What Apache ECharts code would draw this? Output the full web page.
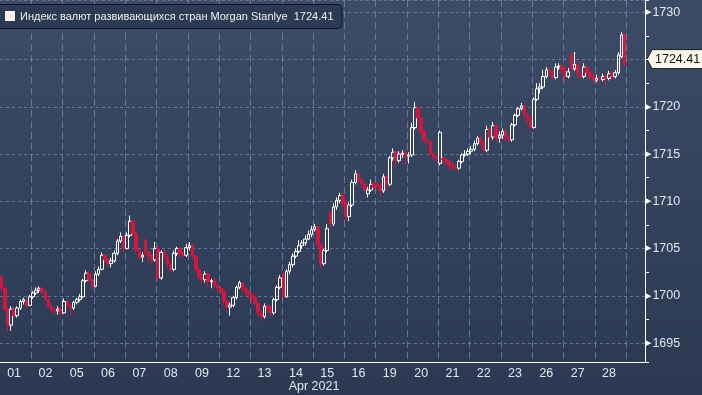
<!DOCTYPE html>
<html><head><meta charset="utf-8">
<script src="https://cdn.jsdelivr.net/npm/echarts@6/dist/echarts.min.js"></script>
<style>html,body{margin:0;padding:0;background:#2f3d58}#c{width:702px;height:395px}</style>
</head><body><div id="c"></div>
<script>
// ---- data ----
const days = ['01','02','05','06','07','08','09','12','13','14','15','16','19','20','21','22','23','26','27','28'];
const trailingDay = '29';
const barsPerDay = 10;
const trailingSlots = 6;
const monthLabel = 'Apr 2021';
const seriesName = 'Индекс валют развивающихся стран Morgan Stanlye';
const lastValue = 1724.41;
const yTicksMajor = [1695,1700,1705,1710,1715,1720,1730];
// bars: [open, close, low, high]
const d01 = [[1702.0,1700.8,1700.5,1702.2],[1700.8,1698.6,1698.3,1701.0],[1698.6,1696.9,1696.2,1698.7],[1696.9,1698.6,1696.3,1698.9],[1698.6,1697.9,1697.6,1698.8],[1697.9,1698.7,1697.7,1698.9],[1698.7,1699.4,1698.5,1699.6],[1699.4,1699.6,1699.1,1699.8],[1699.6,1699.0,1698.8,1699.7],[1699.0,1699.9,1698.9,1700.1]];
const d02 = [[1699.9,1700.3,1699.7,1700.5],[1700.3,1700.6,1700.1,1700.9],[1700.6,1700.8,1700.3,1701.0],[1700.8,1700.4,1700.2,1700.9],[1700.4,1699.6,1699.4,1700.5],[1699.6,1698.9,1698.7,1699.8],[1698.9,1698.5,1698.2,1699.1],[1698.5,1698.4,1698.0,1698.8],[1698.4,1698.6,1698.0,1698.9],[1698.6,1698.2,1697.9,1698.8]];
const d05 = [[1698.2,1699.4,1698.1,1699.7],[1699.4,1699.0,1698.8,1699.6],[1699.0,1698.7,1697.9,1699.1],[1698.7,1699.3,1698.5,1699.5],[1699.3,1699.6,1699.1,1699.8],[1699.6,1699.9,1699.4,1700.2],[1699.9,1701.6,1699.8,1701.8],[1701.6,1702.4,1701.4,1702.7],[1702.4,1701.7,1701.5,1702.6],[1701.7,1701.0,1700.7,1701.9]];
const d06 = [[1701.0,1702.3,1700.9,1702.6],[1702.3,1702.8,1702.1,1703.1],[1702.8,1704.3,1702.7,1704.6],[1704.3,1703.8,1703.5,1704.4],[1703.8,1703.4,1703.0,1704.0],[1703.4,1703.7,1703.0,1704.0],[1703.7,1704.5,1703.5,1704.8],[1704.5,1705.8,1704.3,1706.0],[1705.8,1706.3,1705.6,1706.7],[1706.3,1705.0,1704.6,1706.4]];
const d07 = [[1705.0,1706.4,1704.9,1706.7],[1706.4,1707.9,1706.2,1708.5],[1707.9,1706.6,1706.3,1708.1],[1706.6,1704.8,1704.5,1706.8],[1704.8,1704.1,1703.8,1705.0],[1704.1,1704.3,1703.6,1704.6],[1705.9,1704.6,1704.2,1706.1],[1704.6,1704.2,1703.6,1704.9],[1704.2,1703.8,1703.3,1704.4],[1703.8,1705.0,1703.6,1705.7]];
const d08 = [[1705.0,1701.9,1701.6,1705.3],[1701.9,1704.6,1701.7,1704.8],[1704.6,1704.1,1703.8,1704.9],[1704.1,1703.4,1703.1,1704.4],[1703.4,1702.8,1702.4,1703.6],[1702.8,1704.5,1702.6,1704.8],[1704.5,1705.0,1704.2,1705.2],[1705.0,1704.4,1704.1,1705.1],[1704.4,1704.3,1703.9,1704.7],[1704.3,1705.1,1704.1,1705.5]];
const d09 = [[1705.1,1705.3,1704.8,1705.7],[1705.3,1704.2,1703.9,1705.5],[1704.2,1702.8,1702.5,1704.3],[1702.8,1702.0,1701.7,1703.0],[1702.0,1701.7,1701.3,1702.3],[1701.7,1702.3,1701.4,1702.6],[1702.3,1701.5,1701.0,1702.5],[1701.5,1701.6,1700.8,1701.8],[1701.6,1701.1,1700.8,1701.9],[1701.1,1700.8,1700.4,1701.3]];
const d12 = [[1700.8,1700.5,1700.2,1701.0],[1700.5,1699.4,1699.0,1700.7],[1699.4,1698.8,1698.3,1699.6],[1698.8,1699.0,1697.9,1699.3],[1699.0,1699.8,1698.8,1700.0],[1699.8,1700.9,1699.6,1701.1],[1700.9,1701.4,1700.7,1701.6],[1701.4,1700.7,1700.4,1701.5],[1700.7,1700.4,1700.0,1701.0],[1700.4,1700.1,1699.7,1700.6]];
const d13 = [[1700.1,1699.8,1699.3,1700.3],[1699.8,1699.2,1698.9,1700.0],[1699.2,1698.2,1697.8,1699.3],[1698.2,1697.8,1697.3,1698.4],[1697.8,1698.9,1697.6,1699.2],[1698.9,1698.6,1698.2,1699.2],[1698.6,1698.2,1697.8,1698.9],[1698.2,1699.6,1698.0,1699.8],[1699.6,1700.9,1699.4,1701.1],[1700.9,1701.9,1700.7,1702.2]];
const d14 = [[1702.3,1699.9,1699.7,1702.5],[1699.9,1702.6,1699.8,1702.8],[1702.6,1703.3,1702.3,1703.6],[1703.3,1704.2,1703.0,1704.5],[1704.2,1704.7,1704.0,1705.0],[1704.7,1705.3,1704.5,1705.9],[1705.3,1705.6,1705.0,1705.9],[1705.6,1706.0,1705.3,1706.4],[1706.0,1706.5,1705.9,1706.9],[1706.5,1707.0,1706.2,1707.4]];
const d15 = [[1707.0,1707.3,1706.8,1707.6],[1707.3,1705.4,1705.0,1707.5],[1705.4,1703.4,1702.9,1705.6],[1703.4,1704.8,1703.2,1705.0],[1704.8,1707.1,1704.6,1707.6],[1708.8,1707.6,1707.2,1709.0],[1707.6,1709.4,1707.4,1709.8],[1709.4,1710.1,1709.1,1710.4],[1710.1,1710.6,1709.8,1710.9],[1710.6,1709.8,1709.4,1710.9]];
const d16 = [[1709.8,1708.4,1707.9,1710.1],[1708.4,1709.6,1707.9,1709.9],[1709.6,1712.0,1709.4,1712.3],[1712.0,1712.9,1711.8,1713.3],[1712.9,1712.3,1712.0,1713.1],[1712.3,1711.8,1711.5,1712.5],[1711.8,1711.2,1710.9,1712.0],[1710.8,1711.2,1710.4,1711.5],[1711.2,1711.8,1711.0,1712.3],[1711.8,1711.5,1711.1,1712.0]];
const d19 = [[1711.9,1711.6,1711.2,1712.1],[1711.6,1711.1,1710.4,1711.8],[1711.1,1712.6,1710.9,1712.9],[1712.6,1711.8,1711.2,1712.8],[1711.8,1714.6,1711.6,1714.8],[1714.6,1715.2,1714.3,1715.6],[1715.2,1714.3,1713.6,1715.4],[1714.3,1715.0,1714.1,1715.3],[1715.0,1715.1,1714.6,1715.4],[1715.1,1714.8,1713.9,1715.3]];
const d20 = [[1714.8,1714.9,1714.0,1715.2],[1714.9,1717.8,1714.7,1718.3],[1717.8,1719.9,1717.6,1720.5],[1719.9,1718.8,1718.5,1720.2],[1718.8,1717.4,1717.0,1719.0],[1717.4,1716.5,1716.1,1717.6],[1716.5,1716.3,1716.0,1716.7],[1716.3,1715.0,1714.7,1716.5],[1715.0,1714.7,1714.3,1715.3],[1714.7,1714.5,1714.1,1715.0]];
const d21 = [[1714.0,1717.3,1713.8,1717.5],[1714.5,1714.4,1714.0,1714.8],[1714.4,1714.2,1713.9,1714.6],[1714.2,1713.8,1713.3,1714.4],[1713.8,1713.6,1713.3,1714.1],[1713.6,1713.5,1713.2,1713.9],[1713.5,1714.2,1713.3,1714.4],[1714.2,1714.9,1714.0,1715.1],[1714.9,1715.0,1714.7,1715.4],[1715.0,1715.3,1714.8,1715.6]];
const d22 = [[1715.3,1715.5,1715.0,1715.8],[1715.5,1716.1,1715.3,1716.4],[1716.1,1716.7,1715.9,1716.9],[1716.7,1716.2,1715.9,1716.9],[1716.2,1715.4,1715.1,1716.4],[1715.4,1717.6,1715.2,1718.0],[1717.6,1716.8,1716.3,1717.8],[1716.8,1718.0,1716.5,1718.4],[1718.0,1716.7,1716.3,1718.1],[1716.7,1717.0,1716.2,1717.4]];
const d23 = [[1717.0,1717.4,1716.6,1717.7],[1717.4,1716.8,1716.4,1717.6],[1716.8,1716.5,1716.2,1717.0],[1716.5,1718.1,1716.3,1718.3],[1718.1,1719.1,1717.9,1719.3],[1719.1,1719.8,1718.9,1720.0],[1719.8,1720.1,1719.6,1720.4],[1720.1,1719.1,1718.7,1720.2],[1719.1,1718.7,1718.2,1719.3],[1718.8,1717.8,1717.6,1719.0]];
const d26 = [[1717.8,1720.8,1717.7,1721.0],[1720.8,1721.9,1720.6,1722.5],[1721.9,1722.1,1721.4,1722.5],[1722.1,1723.2,1721.9,1723.9],[1723.2,1723.9,1723.0,1724.2],[1723.9,1723.8,1723.3,1724.2],[1723.8,1723.1,1722.9,1724.0],[1723.1,1724.2,1722.9,1724.6],[1724.2,1724.3,1723.9,1724.6],[1724.3,1723.9,1723.6,1724.5]];
const d27 = [[1723.9,1723.2,1722.6,1724.4],[1723.2,1723.7,1723.0,1724.1],[1725.6,1724.0,1723.8,1725.7],[1724.0,1724.5,1723.8,1725.8],[1724.5,1723.5,1723.1,1724.7],[1723.5,1723.2,1722.9,1723.8],[1723.2,1724.2,1723.0,1724.6],[1724.2,1723.6,1723.3,1724.4],[1723.6,1723.2,1722.8,1723.8],[1723.2,1722.8,1722.5,1723.6]];
const d28 = [[1722.8,1723.0,1722.6,1723.4],[1723.0,1722.9,1722.4,1723.3],[1722.9,1723.2,1722.7,1723.5],[1723.2,1723.0,1722.3,1723.4],[1723.0,1723.5,1722.8,1723.8],[1723.5,1723.2,1722.9,1723.8],[1723.2,1723.6,1723.0,1723.9],[1723.6,1725.5,1723.4,1725.8],[1725.3,1727.6,1725.1,1727.9],[1727.7,1724.41,1724.3,1727.8]];
const barsByDay = [d01,d02,d05,d06,d07,d08,d09,d12,d13,d14,d15,d16,d19,d20,d21,d22,d23,d26,d27,d28];

// ---- build ----
const categories = [];
const ohlc = [];
days.forEach((d, i) => {
  barsByDay[i].forEach((b, j) => { categories.push(d + '#' + j); ohlc.push(b); });
});
for (let j = 0; j < trailingSlots; j++) categories.push(trailingDay + '#' + j);

const FONT = 'Liberation Sans';
const chart = echarts.init(document.getElementById('c'), null, {renderer: 'canvas'});
const yMin = 1693, yMax = 1731.3;
const gridCol = 'rgba(135,155,185,0.6)';

chart.setOption({
  animation: false,
  backgroundColor: new echarts.graphic.LinearGradient(0, 0, 0, 1, [
    {offset: 0, color: '#3c4b66'}, {offset: 1, color: '#2b3953'}
  ]),
  grid: {left: 0, right: 57, top: 0, bottom: 33},
  xAxis: {
    type: 'category', data: categories, boundaryGap: true,
    axisLine: {show: true, lineStyle: {color: '#ffffff', width: 1}},
    axisTick: {show: false},
    axisLabel: {
      interval: (idx) => idx % barsPerDay === 4 && idx < days.length * barsPerDay,
      formatter: (v) => v.split('#')[0],
      color: '#e4e7ee', fontFamily: FONT, fontSize: 12.5, margin: 5
    },
    splitLine: {show: true, interval: (idx) => idx > 0 && idx % barsPerDay === 0,
      lineStyle: {color: gridCol, type: [7, 4], width: 1}}
  },
  yAxis: [{
    type: 'value', position: 'right', min: yMin, max: yMax, scale: true,
    minInterval: 5, maxInterval: 5,
    axisLine: {show: true, lineStyle: {color: '#ffffff', width: 1}},
    axisTick: {show: false},
    axisLabel: {
      showMinLabel: false, showMaxLabel: false, margin: 1,
      formatter: (v) => yTicksMajor.indexOf(Math.round(v * 100) / 100) >= 0 ? '{t|\u25B6}{v|' + v + '}' : '',
      rich: {
        t: {fontSize: 7, color: '#ffffff', fontFamily: 'DejaVu Sans', padding: [0, 1, 0, 0]},
        v: {fontSize: 12.5, color: '#e4e7ee', fontFamily: FONT}
      }
    },
    splitLine: {show: true, lineStyle: {color: gridCol, type: [3, 3], width: 1}}
  }, {
    type: 'value', position: 'right', min: yMin, max: yMax, scale: true,
    minInterval: 2.5, maxInterval: 2.5,
    axisLine: {show: false},
    axisTick: {show: true, length: 4, inside: false, lineStyle: {color: '#ffffff'}},
    axisLabel: {show: false},
    splitLine: {show: false}
  }],
  series: [{
    type: 'candlestick', name: seriesName, data: ohlc, barWidth: '100%',
    itemStyle: {color: 'rgba(0,0,0,0)', color0: '#d3173f', borderColor: '#ffffff', borderColor0: '#d3173f', borderWidth: 1},
    emphasis: {disabled: true}
  }]
});

const yTag = chart.convertToPixel({yAxisIndex: 0}, lastValue) - 6;
const xAxisRight = 645;
chart.setOption({
  graphic: [
    {type: 'group', children: [
      {type: 'rect', shape: {x: -6, y: 4.5, width: 348, height: 24, r: 4}, style: {fill: '#2c3a54', stroke: '#0e1522', lineWidth: 1}},
      {type: 'rect', shape: {x: 5, y: 11, width: 10, height: 10}, style: {fill: '#fcefef'}},
      {type: 'text', x: 20, y: 16.5, style: {text: seriesName + '  ' + lastValue.toFixed(2), font: '11px "Liberation Sans"', fill: '#f0f0f0', verticalAlign: 'middle'}}
    ]},
    {type: 'text', x: 314, y: 387, style: {text: monthLabel, font: '12.5px "Liberation Sans"', fill: '#e4e7ee', align: 'center', verticalAlign: 'middle'}},
    {type: 'group', z: 100, children: [
      {type: 'polygon', shape: {points: [[xAxisRight + 2, yTag], [xAxisRight + 7, yTag - 9.5], [703, yTag - 9.5], [703, yTag + 9.5], [xAxisRight + 7, yTag + 9.5]]},
        style: {fill: '#fbf7ea', stroke: '#1a1a1a', lineWidth: 1}},
      {type: 'text', x: xAxisRight + 10, y: yTag, style: {text: lastValue.toFixed(2), font: '12.5px "Liberation Sans"', fill: '#111111', verticalAlign: 'middle'}}
    ]}
  ]
});
</script></body></html>
